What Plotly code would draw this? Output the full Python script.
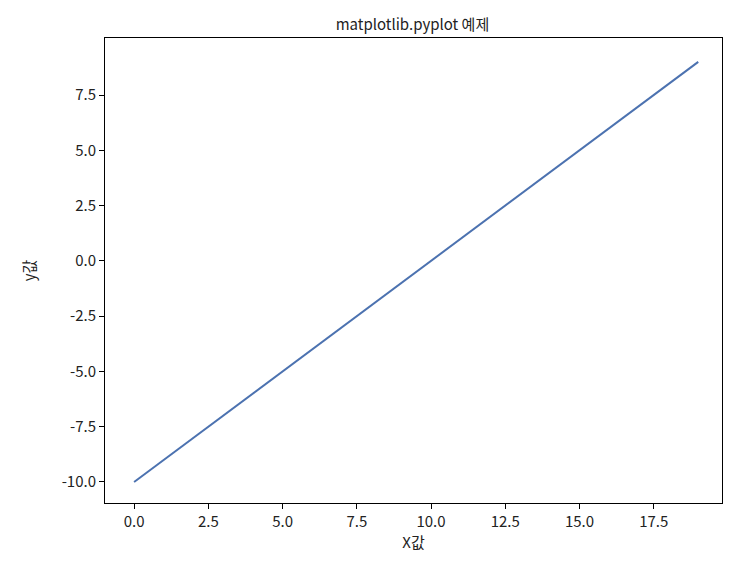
import plotly.graph_objects as go

x_values = [0, 1, 2, 3, 4, 5, 6, 7, 8, 9, 10, 11, 12, 13, 14, 15, 16, 17, 18, 19]
y_values = [-10, -9, -8, -7, -6, -5, -4, -3, -2, -1, 0, 1, 2, 3, 4, 5, 6, 7, 8, 9]
x_ticks = [0, 2.5, 5, 7.5, 10, 12.5, 15, 17.5]
y_ticks = [-10, -7.5, -5, -2.5, 0, 2.5, 5, 7.5]

font = "Noto Sans CJK KR, Noto Sans, DejaVu Sans"

fig = go.Figure(go.Scatter(x=x_values, y=y_values, mode="lines",
                           line=dict(color="#4c72b0", width=2)))

axis_common = dict(showgrid=False, zeroline=False, showline=True, linecolor="black",
                   linewidth=1, mirror=True, ticks="outside", ticklen=5,
                   tickcolor="black", tickfont=dict(size=15, color="#222"))

fig.update_layout(
    width=756, height=571,
    margin=dict(l=97, r=42, t=30, b=76),
    paper_bgcolor="white", plot_bgcolor="white",
    font=dict(family=font, color="#222"),
    title=dict(text="matplotlib.pyplot 예제", x=0.535, xanchor="center",
               y=0.97, yanchor="middle", font=dict(size=15)),
    showlegend=False,
    xaxis=dict(range=[-0.98, 19.8], tickvals=x_ticks,
               ticktext=[f"{v:.1f}" for v in x_ticks],
               title=dict(text="X값", font=dict(size=15), standoff=2), **axis_common),
    yaxis=dict(range=[-10.95, 10.08], tickvals=y_ticks,
               ticktext=[f"{v:.1f}" for v in y_ticks],
               title=dict(text="y값", font=dict(size=15), standoff=22), **axis_common),
)

fig.write_html("out.html")
